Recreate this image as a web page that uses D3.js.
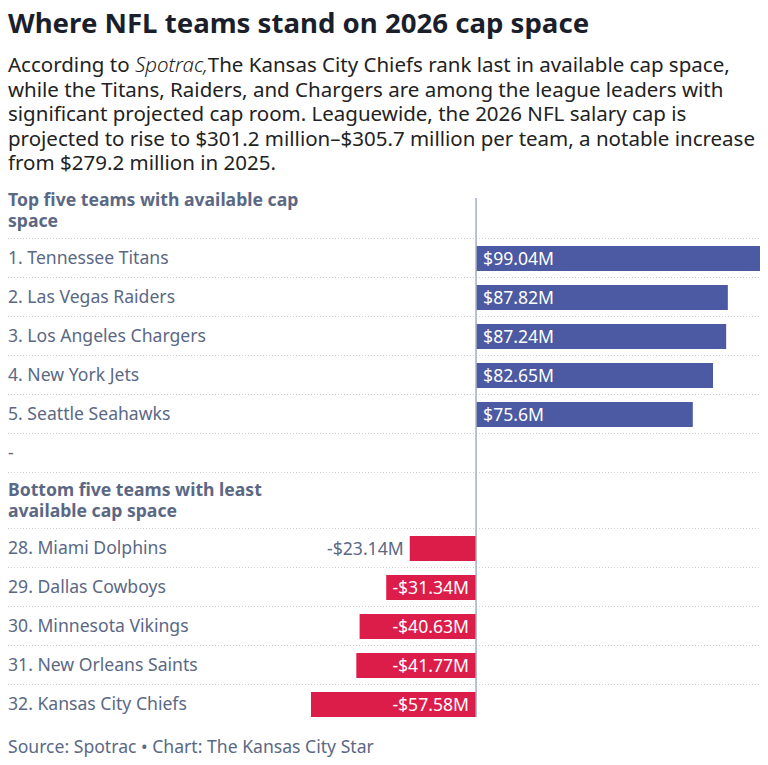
<!DOCTYPE html>
<html>
<head>
<meta charset="utf-8">
<script src="https://cdn.jsdelivr.net/npm/d3@7"></script>
<style>
  body { margin: 0; background: #fff; }
  text { font-family: "Noto Sans", sans-serif; }
</style>
</head>
<body>
<div id="chart"></div>
<script>
let title = "Where NFL teams stand on 2026 cap space";
let subtitleLines = [
  ["According to ", "Spotrac,", "The Kansas City Chiefs rank last in available cap space,"],
  ["while the Titans, Raiders, and Chargers are among the league leaders with"],
  ["significant projected cap room. Leaguewide, the 2026 NFL salary cap is"],
  ["projected to rise to $301.2 million\u2013$305.7 million per team, a notable increase"],
  ["from $279.2 million in 2025."]
];
let topHeader = "Top five teams with available cap space";
let topTeams = ["1. Tennessee Titans", "2. Las Vegas Raiders", "3. Los Angeles Chargers", "4. New York Jets", "5. Seattle Seahawks"];
let topValues = [99.04, 87.82, 87.24, 82.65, 75.6];
let spacer = "-";
let bottomHeader = "Bottom five teams with least available cap space";
let bottomTeams = ["28. Miami Dolphins", "29. Dallas Cowboys", "30. Minnesota Vikings", "31. New Orleans Saints", "32. Kansas City Chiefs"];
let bottomValues = [-23.14, -31.34, -40.63, -41.77, -57.58];
let source = "Source: Spotrac \u2022 Chart: The Kansas City Star";

let width = 768, height = 765;
let rowH = 39;
let fs = 17.6;

let svg = d3.select("#chart")
            .append("svg")
            .attr("width", width)
            .attr("height", height)

svg.append("text")
   .text(title)
   .attr("x", 8)
   .attr("y", 33)
   .attr("font-size", 27.6)
   .attr("font-weight", 700)
   .attr("fill", "#1b1f2b")

let sub = svg.append("text")
             .attr("font-size", 20.5)
             .attr("fill", "#222")
subtitleLines.forEach((parts, i) => {
  parts.forEach((p, j) => {
    let t = sub.append("tspan").text(p)
    if (j == 0) t.attr("x", 8).attr("y", 72 + i * 24.5)
    if (parts.length > 1 && j == 1) t.attr("font-style", "italic").attr("font-weight", 300)
  })
})

// build the list of rows
let rows = [];
rows.push({type: "header", label: topHeader, h: 56});
topTeams.forEach((t, i) => rows.push({type: "team", label: t, value: topValues[i], h: rowH}));
rows.push({type: "spacer", label: spacer, h: rowH});
rows.push({type: "header", label: bottomHeader, h: 56});
bottomTeams.forEach((t, i) => rows.push({type: "team", label: t, value: bottomValues[i], h: rowH}));

let y0 = 182;
rows.forEach(r => { r.top = y0; y0 += r.h; });

let allValues = topValues.concat(bottomValues);
let xscale = d3.scaleLinear()
               .domain([d3.min(allValues), d3.max(allValues)])
               .range([311, 760])

// dotted dividers
svg.selectAll("line.div")
   .data(rows.slice(0, rows.length - 1))
   .enter()
   .append("line")
   .attr("x1", 8)
   .attr("x2", 760)
   .attr("y1", d => d.top + d.h + 0.5)
   .attr("y2", d => d.top + d.h + 0.5)
   .attr("stroke", "#cfcfcf")
   .attr("stroke-dasharray", "1,2")

let teamRows = rows.filter(d => d.type == "team");

svg.selectAll("rect.bar")
   .data(teamRows)
   .enter()
   .append("rect")
   .attr("x", d => Math.min(xscale(0), xscale(d.value)))
   .attr("width", d => Math.abs(xscale(d.value) - xscale(0)))
   .attr("y", d => d.top + 8)
   .attr("height", 25)
   .attr("fill", d => d.value > 0 ? "#4b5aa2" : "#dc1d4a")

// zero line
svg.append("line")
   .attr("x1", xscale(0))
   .attr("x2", xscale(0))
   .attr("y1", 198)
   .attr("y2", rows[rows.length - 1].top + 8 + 25)
   .attr("stroke", "#a3acc4")
   .attr("stroke-width", 1.5)

// row labels
svg.selectAll("text.lab")
   .data(rows.filter(d => d.type != "header"))
   .enter()
   .append("text")
   .text(d => d.label)
   .attr("x", 8)
   .attr("y", d => d.top + 26)
   .attr("font-size", fs)
   .attr("fill", "#5b6884")

// headers with wrapping
rows.filter(d => d.type == "header").forEach(d => {
  let t = svg.append("text")
             .attr("font-size", fs)
             .attr("font-weight", 700)
             .attr("fill", "#5b6884")
  let words = d.label.split(" "), line = [], lineNo = 0;
  let ts = t.append("tspan").attr("x", 8).attr("y", d.top + 24);
  words.forEach(w => {
    line.push(w);
    ts.text(line.join(" "));
    if (ts.node().getComputedTextLength() > 312) {
      line.pop();
      ts.text(line.join(" "));
      line = [w];
      lineNo++;
      ts = t.append("tspan").attr("x", 8).attr("y", d.top + 24 + lineNo * 21).text(w);
    }
  })
})

// value labels
let fmt = v => (v < 0 ? "-$" : "$") + Math.abs(v) + "M";
svg.selectAll("text.val")
   .data(teamRows)
   .enter()
   .append("text")
   .text(d => fmt(d.value))
   .attr("font-size", fs)
   .attr("y", d => d.top + 27)
   .each(function(d) {
     let t = d3.select(this);
     let w = this.getComputedTextLength();
     let barW = Math.abs(xscale(d.value) - xscale(0));
     if (d.value > 0) {
       t.attr("x", xscale(0) + 7).attr("fill", "#fff");
     } else if (w + 12 < barW) {
       t.attr("x", xscale(0) - 7).attr("text-anchor", "end").attr("fill", "#fff");
     } else {
       t.attr("x", xscale(d.value) - 6).attr("text-anchor", "end").attr("fill", "#5b6884");
     }
   })

svg.append("text")
   .text(source)
   .attr("x", 8)
   .attr("y", 753)
   .attr("font-size", fs)
   .attr("fill", "#5b6884")
</script>
</body>
</html>
